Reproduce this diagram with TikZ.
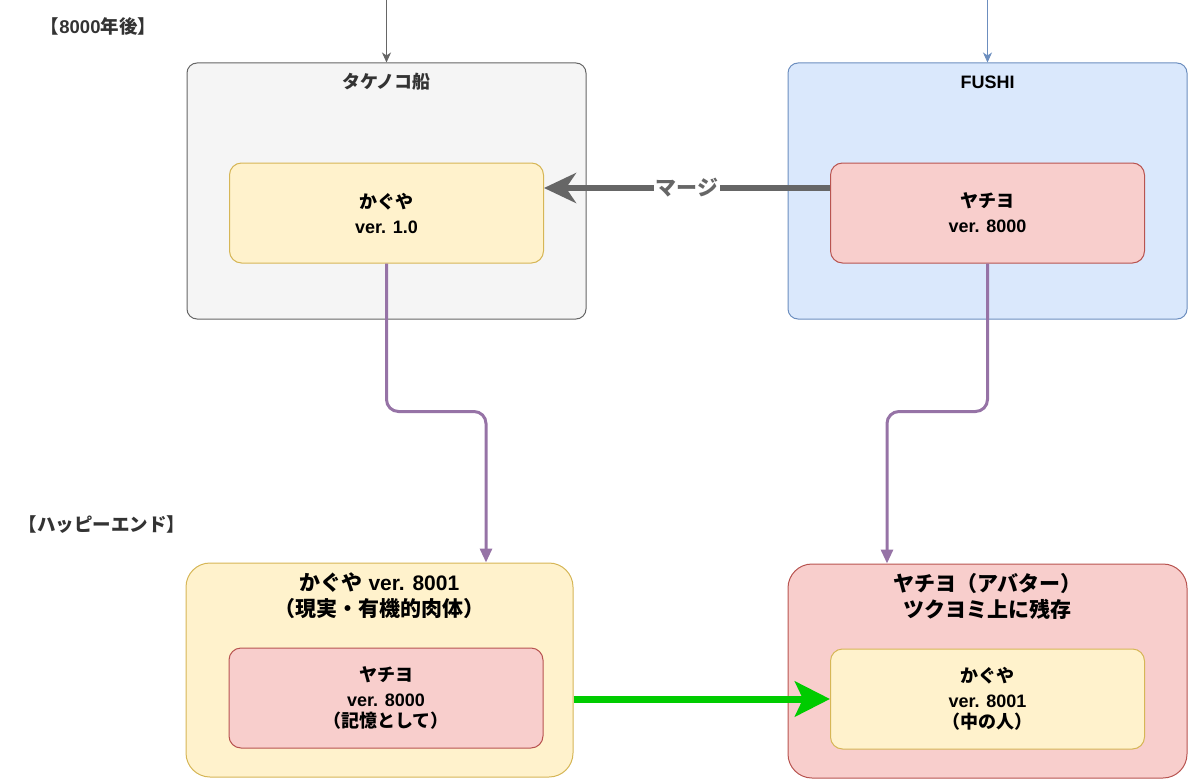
\documentclass[tikz,border=0pt]{standalone}
\usepackage{fontspec}
\setmainfont{Liberation Sans}
\newfontfamily\jp{Noto Sans CJK JP}
\usetikzlibrary{positioning, calc, arrows.meta}

\definecolor{grayfill}{HTML}{F5F5F5}
\definecolor{grayline}{HTML}{666666}
\definecolor{bluefill}{HTML}{DAE8FC}
\definecolor{blueline}{HTML}{6C8EBF}
\definecolor{yellowfill}{HTML}{FFF2CC}
\definecolor{yellowline}{HTML}{D6B656}
\definecolor{redfill}{HTML}{F8CECC}
\definecolor{redline}{HTML}{B85450}
\definecolor{purpleline}{HTML}{9673A6}
\definecolor{greenline}{HTML}{00CC00}
\definecolor{textdark}{HTML}{333333}

\begin{document}
\begin{tikzpicture}[
	x=1pt, y=-1pt,
	font=\bfseries,
	% Group boxes
	grp-gray/.style={draw=grayline, fill=grayfill, line width=1pt, rounded corners=10pt, minimum width=399pt, minimum height=256pt},
	grp-blue/.style={draw=blueline, fill=bluefill, line width=1pt, rounded corners=10pt, minimum width=399pt, minimum height=256pt},
	grp-yellow/.style={draw=yellowline, fill=yellowfill, line width=1pt, rounded corners=24pt, minimum height=214pt},
	grp-red/.style={draw=redline, fill=redfill, line width=1pt, rounded corners=24pt, minimum height=214pt},
	% Cards inside the groups
	card-yellow/.style={draw=yellowline, fill=yellowfill, line width=1pt, rounded corners=12pt, minimum width=314pt, minimum height=100pt, align=center, font=\bfseries\fontsize{18}{21}\selectfont},
	card-red/.style={draw=redline, fill=redfill, line width=1pt, rounded corners=12pt, minimum width=314pt, minimum height=100pt, align=center, font=\bfseries\fontsize{18}{21}\selectfont},
	% Text styles
	grp-title/.style={inner sep=0pt, text=textdark, font=\bfseries\fontsize{18}{22}\selectfont, text height=13pt, text depth=3pt},
	big-title/.style={inner sep=0pt, align=center, font=\bfseries\fontsize{21}{26}\selectfont},
	stage label/.style={text=textdark, font=\bfseries\fontsize{18.5}{21}\selectfont},
	% Arrow styles
	arr-in/.style={line width=1pt, -{Stealth[length=10pt, width=9pt, inset=3pt]}},
	arr-flow/.style={draw=purpleline, line width=3pt, rounded corners=12pt, -{Triangle[length=14pt, width=12pt]}},
	arr-merge/.style={draw=grayline, line width=6pt, -{Stealth[length=32pt, width=30pt, inset=10pt]}},
	arr-green/.style={draw=greenline, line width=7pt, -{Stealth[length=35pt, width=35pt, inset=8pt]}}
	]
	\useasboundingbox (0,0) rectangle (1200,784);
	
	% ==============================================================================
	% 8000 YEARS LATER
	% ==============================================================================
	\node[stage label] (later) at (98.5,26) {{\jp 【}8000{\jp 年後】}};
	
	\node[grp-gray] (ship) at (386.5,191) {};
	\node[grp-title, below=13pt of ship.north] (shiptitle) {{\jp タケノコ船}};
	\node[card-yellow, below=100pt of ship.north] (kaguya) {{\jp かぐや}\\[4pt]ver. 1.0};
	
	\node[grp-blue, right=201pt of ship] (fushi) {};
	\node[grp-title, text=black, below=13pt of fushi.north] (fushititle) {FUSHI};
	\node[card-red, below=100pt of fushi.north] (yachiyo) {{\jp ヤチヨ}\\[4pt]ver. 8000};
	
	\coordinate (shiptop) at (ship.north |- 0,0);
	\coordinate (fushitop) at (fushi.north |- 0,0);
	\draw[arr-in, draw=grayline] (shiptop) -- (ship.north);
	\draw[arr-in, draw=blueline] (fushitop) -- (fushi.north);
	
	% merge
	\draw[arr-merge] ([yshift=25pt]yachiyo.west) -- node[fill=white, inner sep=2pt, text=grayline, font=\bfseries\fontsize{21}{24}\selectfont] (merge) {\jp マージ} ([yshift=25pt]kaguya.east);
	
	% ==============================================================================
	% HAPPY END
	% ==============================================================================
	\node[stage label] (happy) at (102,525) {{\jp 【ハッピーエンド】}};
	
	\node[grp-yellow, minimum width=387pt] (kreal) at (379.5,670) {};
	\node[big-title, below=10pt of kreal.north] (krealtitle) {{\jp かぐや} ver. 8001\\{\jp （現実・有機的肉体）}};
	\node[card-red] (ymem) at (386,698) {{\jp ヤチヨ}\\[4pt]ver. 8000\\{\jp （記憶として）}};
	
	\node[grp-red, minimum width=399pt, below=244pt of fushi] (avatar) {};
	\node[big-title, below=10pt of avatar.north] (avatartitle) {{\jp ヤチヨ（アバター）}\\{\jp ツクヨミ上に残存}};
	\node[card-yellow, below=85pt of avatar.north] (kmid) {{\jp かぐや}\\[4pt]ver. 8001\\{\jp （中の人）}};
	
	% flows
	\draw[arr-flow] (kaguya.south) -- ++(0,148) -| ([xshift=106.5pt]kreal.north);
	\draw[arr-flow] (yachiyo.south) -- ++(0,148) -| ([xshift=-100.5pt]avatar.north);
	\draw[arr-green] (kreal.east |- kmid.west) -- (kmid.west);
	
\end{tikzpicture}
\end{document}
